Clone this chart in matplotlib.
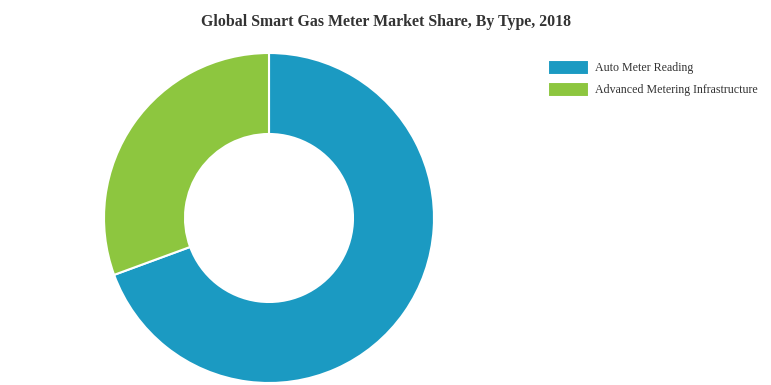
import matplotlib.pyplot as plt

types = ["Auto Meter Reading", "Advanced Metering Infrastructure"]
share = [69.4, 30.6]
colors = ["#1B9AC2", "#8DC63F"]

plt.rcParams['font.family'] = ['Liberation Serif', 'DejaVu Serif']

W, H = 771, 385
fig = plt.figure(figsize=(W / 100, H / 100), dpi=100)

# donut centre (269, 218) px, outer radius 165 px, inner ~84 px
cx, cy, r = 269, 218, 165
ax = fig.add_axes([(cx - r) / W, (H - cy - r) / H, 2 * r / W, 2 * r / H])
wedges, _ = ax.pie(share, colors=colors, startangle=90, counterclock=False,
                   radius=1, wedgeprops=dict(width=(165 - 84) / 165, edgecolor="white", linewidth=1.5))
ax.set_xlim(-1, 1)
ax.set_ylim(-1, 1)
ax.set_aspect("equal")
ax.axis("off")

fig.text(386 / W, 1 - 22 / H, "Global Smart Gas Meter Market Share, By Type, 2018",
         ha="center", va="center", fontsize=11.4, fontweight="bold", color="#333333")

fig.legend(wedges, types, loc="upper left", bbox_to_anchor=(548 / W, 1 - 60 / H),
           frameon=False, fontsize=8.6, borderpad=0, borderaxespad=0,
           handlelength=3.4, handleheight=1.5, labelspacing=0.62, handletextpad=0.5,
           labelcolor="#333333")

fig.savefig("out.png", dpi=100)
